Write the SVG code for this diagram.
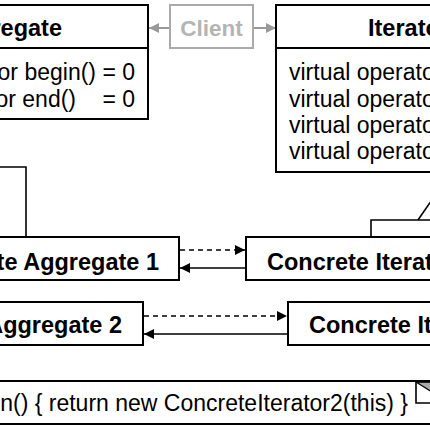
<svg xmlns="http://www.w3.org/2000/svg" width="430" height="430" viewBox="0 0 430 430">
<style>
.box{fill:#fff;stroke:#000;stroke-width:2}
.gbox{fill:#fff;stroke:#aaa;stroke-width:2}
.t{font-family:"Liberation Sans",Arial,sans-serif;font-size:23px;fill:#000}
.b{font-weight:bold;font-size:23.5px}
.g{fill:#b4b4b4;font-size:22.5px}
.ln{fill:none;stroke:#000;stroke-width:1.6}
.dash{stroke-dasharray:5,4}
.gl{fill:none;stroke:#999;stroke-width:2}
</style>
<defs>
<marker id="ah" viewBox="0 0 10 10" refX="10" refY="5" markerWidth="10" markerHeight="10" markerUnits="userSpaceOnUse" orient="auto"><path d="M0,0 L10,5 L0,10 z" fill="#000"/></marker>
<marker id="gah" viewBox="0 0 10 10" refX="10" refY="5" markerWidth="10" markerHeight="10" markerUnits="userSpaceOnUse" orient="auto"><path d="M0,0 L10,5 L0,10 z" fill="#999"/></marker>
</defs>
<rect width="430" height="430" fill="#fff"/>
<g id="connectors">
<path class="gl" d="M170,28 H149" marker-end="url(#gah)"/>
<path class="gl" d="M253,28 H276" marker-end="url(#gah)"/>
<path class="ln" d="M0,167 H26 V237"/>
<path class="ln" d="M371,237 V220 H440"/>
<path class="ln" d="M418,220 L436,194"/>
<path class="ln dash" d="M180,250 H245" marker-end="url(#ah)"/>
<path class="ln" d="M246,268 H180" marker-end="url(#ah)"/>
<path class="ln dash" d="M144,316 H287" marker-end="url(#ah)"/>
<path class="ln" d="M288,334 H144" marker-end="url(#ah)"/>
</g>
<g id="aggregate">
<rect class="box" x="-200" y="5" width="348" height="114"/>
<line x1="-200" y1="48" x2="148" y2="48" stroke="#000" stroke-width="2"/>
<text class="t b" x="62" y="36" text-anchor="end">Aggregate</text>
<text class="t" x="135" y="80" text-anchor="end">Iterator begin() = 0</text>
<text class="t" x="76" y="107" text-anchor="end">Iterator end()</text>
<text class="t" x="135" y="107" text-anchor="end">= 0</text>
</g>
<g id="client">
<rect class="gbox" x="170" y="5" width="83" height="43"/>
<text class="t b g" x="211.5" y="36" text-anchor="middle">Client</text>
</g>
<g id="iterator">
<rect class="box" x="276" y="5" width="200" height="167"/>
<line x1="276" y1="48" x2="476" y2="48" stroke="#000" stroke-width="2"/>
<text class="t b" x="368" y="36">Iterator</text>
<text class="t" x="289" y="80">virtual operator</text>
<text class="t" x="289" y="106.5">virtual operator</text>
<text class="t" x="289" y="133">virtual operator</text>
<text class="t" x="289" y="159">virtual operator</text>
</g>
<g id="concreteAggregate1">
<rect class="box" x="-100" y="237" width="279" height="43"/>
<text class="t b" x="159" y="270" text-anchor="end">Concrete Aggregate 1</text>
</g>
<g id="concreteAggregate2">
<rect class="box" x="-100" y="302" width="243" height="43"/>
<text class="t b" x="122" y="333" text-anchor="end">Concrete Aggregate 2</text>
</g>
<g id="concreteIterator1">
<rect class="box" x="246" y="237" width="250" height="43"/>
<text class="t b" x="267" y="270">Concrete Iterator 1</text>
</g>
<g id="concreteIterator2">
<rect class="box" x="288" y="302" width="250" height="43"/>
<text class="t b" x="309" y="333">Concrete Iterator 2</text>
</g>
<g id="code">
<rect class="box" x="-10" y="381" width="460" height="43"/>
<text class="t" x="408" y="411" text-anchor="end">begin() { return new ConcreteIterator2(this) }</text>
</g>
<g id="note">
<path d="M416,382 H440 V403 H416 Z" fill="#fff" stroke="none"/>
<path d="M416,382 V403 H440" fill="none" stroke="#000" stroke-width="1.6"/>
<path d="M416,382 L432,382 L432,392 Z" fill="#aaa"/>
<path d="M416,382 L432,392" stroke="#000" stroke-width="1.2"/>
<path d="M416,382 H432" stroke="#000" stroke-width="1.6"/>
</g>
</svg>
